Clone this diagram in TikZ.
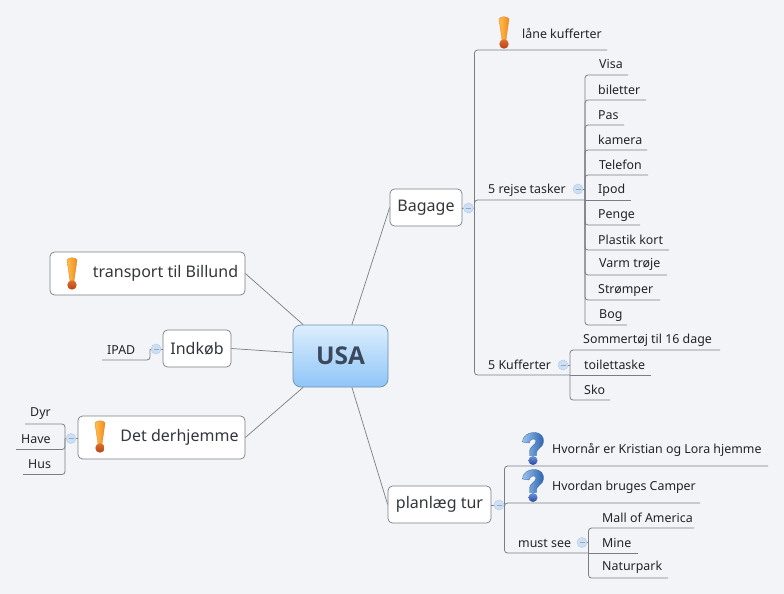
\documentclass[tikz,border=0pt]{standalone}
\usepackage{fontspec}
\setmainfont{Noto Sans}
\newfontfamily\rootfont{Open Sans}
\definecolor{bgc}{HTML}{F2F4F8}
\definecolor{linec}{HTML}{7A7D83}
\definecolor{txtc}{HTML}{222428}
\definecolor{maintxt}{HTML}{33363B}
\definecolor{roottop}{HTML}{DDEEFD}
\definecolor{rootbot}{HTML}{8FC5F8}
\definecolor{rootline}{HTML}{6E8FAE}
\definecolor{roottxt}{HTML}{3A4A5C}
\definecolor{foldfill}{HTML}{CFDFF3}
\definecolor{foldline}{HTML}{B5CDE9}
\definecolor{foldbar}{HTML}{8FA9CB}
\definecolor{exA}{HTML}{FFC04D}
\definecolor{exB}{HTML}{F08A1C}
\definecolor{exC}{HTML}{E0702A}
\definecolor{exD}{HTML}{B5401A}
\definecolor{quA}{HTML}{9CC3EA}
\definecolor{quB}{HTML}{2A62AE}
\definecolor{quC}{HTML}{6A94D6}
\definecolor{quD}{HTML}{2B46A6}
\tikzset{
  x=1pt,y=-1pt,
  topicbox/.style={draw=linec,line width=.7pt,fill=white,rounded corners=4.5pt,inner sep=0pt,font=\fontsize{16}{18}\selectfont,text=maintxt},
  rootbox/.style={draw=rootline,line width=.7pt,rounded corners=8pt,top color=roottop,bottom color=rootbot,inner sep=0pt,font=\rootfont\fontsize{24.5}{28}\selectfont\bfseries,text=roottxt},
  leaf/.style={anchor=base west,inner sep=0pt,font=\fontsize{12.4}{14}\selectfont,text=txtc},
  conn/.style={draw=linec,line width=.7pt},
  branch/.style={draw=linec,line width=.8pt,rounded corners=3pt},
  foldc/.style={circle,draw=foldline,fill=foldfill,line width=.5pt,minimum size=10pt,inner sep=0pt,
    path picture={\draw[foldbar,line width=.6pt] ([xshift=-2.5pt]path picture bounding box.center) -- ([xshift=2.5pt]path picture bounding box.center);}},
  pics/exclam/.style={code={
    \path[left color=exA,right color=exB,draw=exC!70!exB,line width=.3pt]
      (-5,-13) .. controls (-3.5,-16) and (3.5,-16) .. (5,-13) -- (2,8) -- (-2,8) -- cycle;
    \path[top color=exC,bottom color=exD] (0,12) circle (4.7);
  }},
  pics/quest/.style={code={
    \path[left color=quA,right color=quB,draw=quB,line width=.3pt]
      (-10.5,-7) .. controls (-10,-14) and (-4,-16.5) .. (1,-16.5)
      .. controls (8,-16.5) and (11,-12) .. (10.5,-7)
      .. controls (10,-2) and (4,0) .. (3.5,3) -- (3.5,6.5) -- (-3.5,6.5) -- (-3.5,2)
      .. controls (-3,-3) and (3,-4) .. (3,-8)
      .. controls (3,-11) and (-3,-11) .. (-4,-6) -- cycle;
    \path[top color=quC,bottom color=quD] (0,11.5) circle (4.5);
  }},
}
\begin{document}
\begin{tikzpicture}
\fill[bgc] (0,0) rectangle (784,594);
\useasboundingbox (0,0) rectangle (784,594);

% main boxes
\node[rootbox,minimum width=95pt,minimum height=62pt] (usa) at (340.5,356) {USA};
\node[topicbox,minimum width=72pt,minimum height=37pt] (bagage) at (426,207.5) {Bagage};
\node[topicbox,minimum width=103pt,minimum height=37pt] (plan) at (439.5,504.5) {planlæg tur};
\node[topicbox,minimum width=195pt,minimum height=43pt] (trans) at (147.5,273.5) {\hspace{36pt}transport til Billund};
\node[topicbox,minimum width=68pt,minimum height=37pt] (indkob) at (197,348.5) {Indkøb};
\node[topicbox,minimum width=167pt,minimum height=43pt] (det) at (161.5,437.5) {\hspace{36pt}Det derhjemme};

% root connectors
\draw[conn] (usa.70) -- (bagage.west);
\draw[conn] (usa.-70) -- (plan.west);
\draw[conn] (usa.140) -- (trans.east);
\draw[conn] (usa.176) -- (indkob.east);
\draw[conn] (usa.220) -- (det.east);

% junctions
\coordinate (jb) at (474.5,208);
\coordinate (jp) at (504.5,505);
\coordinate (jr) at (585,200);
\coordinate (jk) at (570,375);
\coordinate (jm) at (588.5,553);
\coordinate (ji) at (150,349);
\coordinate (jd) at (65,438.5);

% line ends
\coordinate (eKuf) at (607,50);
\coordinate (eVisa) at (628,75);
\coordinate (eBil) at (646,100);
\coordinate (ePas) at (624,125);
\coordinate (eKam) at (647,150);
\coordinate (eTel) at (648,175);
\coordinate (eIpod) at (631,200);
\coordinate (ePen) at (640,225);
\coordinate (ePla) at (669,250);
\coordinate (eVar) at (667,275);
\coordinate (eStr) at (660,300);
\coordinate (eBog) at (627,325);
\coordinate (eSom) at (720,350);
\coordinate (eToi) at (651,375);
\coordinate (eSko) at (610,400);
\coordinate (eHvo) at (768,466);
\coordinate (eCam) at (700,503);
\coordinate (eMal) at (694,528);
\coordinate (eMin) at (638,553);
\coordinate (eNat) at (668,578);
\coordinate (eIpad) at (102,360);
\coordinate (eDyr) at (25,424);
\coordinate (eHav) at (16,449.5);
\coordinate (eHus) at (23,474.5);

% connectors
\coordinate (cfb) at (468.5,208);
\coordinate (cfp) at (499,505);
\coordinate (cfi) at (156,349);
\coordinate (cfd) at (71,438.5);
\draw[conn] (bagage.east |- jb) -- (jb);
\draw[branch] (jb) |- (eKuf);
\draw[branch] (jb) |- (jr);
\draw[branch] (jb) |- (jk);
\draw[branch] (jr) |- (eVisa);
\draw[branch] (jr) |- (eBil);
\draw[branch] (jr) |- (ePas);
\draw[branch] (jr) |- (eKam);
\draw[branch] (jr) |- (eTel);
\draw[branch] (jr) -- (eIpod);
\draw[branch] (jr) |- (ePen);
\draw[branch] (jr) |- (ePla);
\draw[branch] (jr) |- (eVar);
\draw[branch] (jr) |- (eStr);
\draw[branch] (jr) |- (eBog);
\draw[branch] (jk) |- (eSom);
\draw[branch] (jk) -- (eToi);
\draw[branch] (jk) |- (eSko);

\draw[conn] (plan.east |- jp) -- (jp);
\draw[branch] (jp) |- (eHvo);
\draw[branch] (jp) |- (eCam);
\draw[branch] (jp) |- (jm);
\draw[branch] (jm) |- (eMal);
\draw[branch] (jm) -- (eMin);
\draw[branch] (jm) |- (eNat);

\draw[conn] (indkob.west |- ji) -- (ji);
\draw[branch] (ji) |- (eIpad);
\draw[conn] (det.west |- jd) -- (jd);
\draw[branch] (jd) |- (eDyr);
\draw[branch] (jd) |- (eHav);
\draw[branch] (jd) |- (eHus);

% fold marks
\node[foldc] (fb) at (cfb) {};
\node[foldc] (fp) at (cfp) {};
\node[foldc] (fr) at (578,189) {};
\node[foldc] (fk) at (563,365) {};
\node[foldc] (fm) at (582,542.5) {};
\node[foldc] (fi) at (cfi) {};
\node[foldc] (fd) at (cfd) {};
\draw[conn] (fr) -- (jr |- fr);
\draw[conn] (fk) -- (jk |- fk);
\draw[conn] (fm) -- (jm |- fm);

% leaf texts
\node[leaf] (tKuf) at (522,38) {låne kufferter};
\node[leaf] (tVisa) at (599,69) {Visa};
\node[leaf] (tBil) at (598,94) {biletter};
\node[leaf] (tPas) at (598,119) {Pas};
\node[leaf] (tKam) at (598,144) {kamera};
\node[leaf] (tTel) at (599,169) {Telefon};
\node[leaf] (tIpod) at (598,193) {Ipod};
\node[leaf] (tPen) at (598,218) {Penge};
\node[leaf] (tPla) at (598,244) {Plastik kort};
\node[leaf] (tVar) at (599,267) {Varm trøje};
\node[leaf] (tStr) at (598,293) {Strømper};
\node[leaf] (tBog) at (599,318) {Bog};
\node[leaf] (tSom) at (583,343) {Sommertøj til 16 dage};
\node[leaf] (tToi) at (584,369) {toilettaske};
\node[leaf] (tSko) at (584,394) {Sko};
\node[leaf] (tRej) at (488,193) {5 rejse tasker};
\node[leaf] (tKu5) at (488,369) {5 Kufferter};
\node[leaf] (tHvo) at (552,453) {Hvornår er Kristian og Lora hjemme};
\node[leaf] (tCam) at (552,490) {Hvordan bruges Camper};
\node[leaf] (tMal) at (602,522) {Mall of America};
\node[leaf] (tMin) at (602,547) {Mine};
\node[leaf] (tNat) at (602,570) {Naturpark};
\node[leaf] (tMus) at (518,547) {must see};
\node[leaf] (tIpad) at (107,354) {IPAD};
\node[leaf] (tDyr) at (30,416) {Dyr};
\node[leaf] (tHav) at (21,443) {Have};
\node[leaf] (tHus) at (28,468) {Hus};

% icons
\pic at (504,32) {exclam};
\pic at (72,273) {exclam};
\pic at (100,436) {exclam};
\pic at (533,449) {quest};
\pic at (533,486) {quest};
\end{tikzpicture}
\end{document}
